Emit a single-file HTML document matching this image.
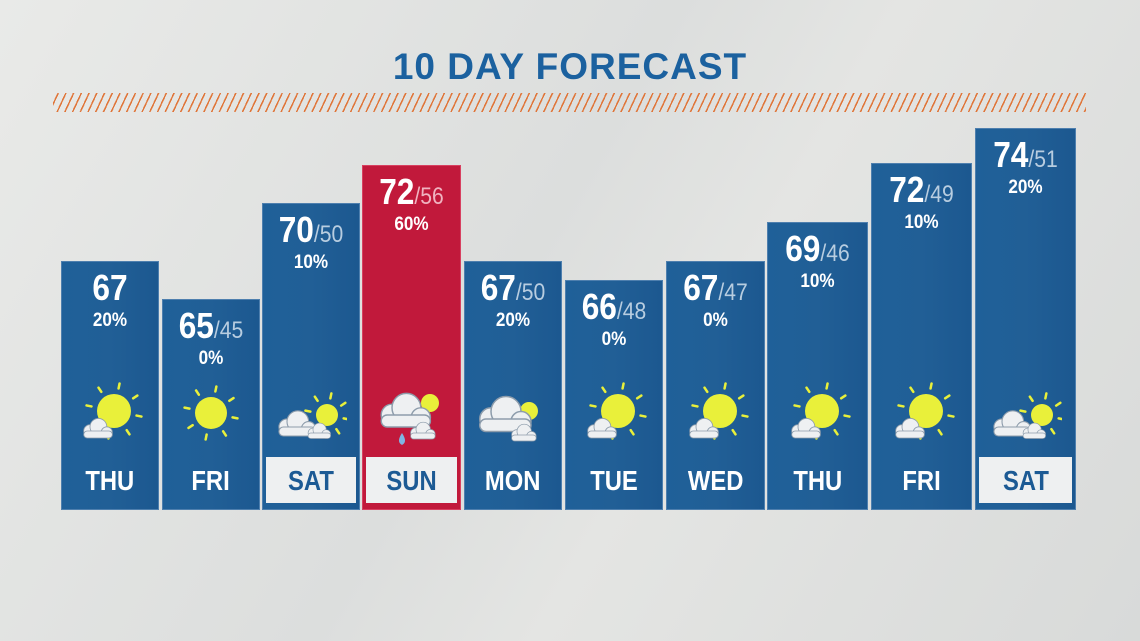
<!DOCTYPE html>
<html><head><meta charset="utf-8"><style>
body{margin:0;width:1140px;height:641px;overflow:hidden;background:linear-gradient(120deg,#e9eae8 0%,#dcdedd 45%,#e4e5e3 60%,#d8dad9 100%);font-family:"Liberation Sans Narrow","Liberation Sans",sans-serif;position:relative}
.title{position:absolute;left:0;width:1140px;top:46px;text-align:center;font:bold 37px "Liberation Sans",sans-serif;color:#1b619f;letter-spacing:1px}
.hatch{position:absolute;left:53px;top:93px;width:1033px;height:19px;background:repeating-linear-gradient(115deg,transparent 0 4px,#e0763a 4px 5.5px,transparent 5.5px 7px)}
.bar{position:absolute;bottom:131px;background:linear-gradient(90deg,#1f6099,#215f96 50%,#1c5890);border:1px solid #4e7fae;box-sizing:border-box;color:#fff;text-align:center}
.red{background:#c1193b;border-color:#d84060}
.t{position:absolute;left:0;right:0;top:8px;font-weight:bold;font-size:36px;line-height:36px;transform:scaleX(0.88)}
.t span{font-weight:normal;font-size:24px;color:#b8cde0}
.red .t span{color:#f0b3c0}
.p{position:absolute;left:0;right:0;top:48px;font-weight:bold;font-size:19px;transform:scaleX(0.9)}
.d{position:absolute;left:0;right:0;bottom:6px;height:46px;line-height:48px;font-weight:bold;font-size:28px}
.d b{display:inline-block;transform:scaleX(0.85)}
.box{left:3px;right:3px;background:#eef0f1;color:#1c5a94}
.ic{position:absolute;left:50%;bottom:58px;margin-left:-36px}
</style></head><body>
<div class="title">10 DAY FORECAST</div>
<div class="hatch"></div>
<div id="c"></div>
<script>
var D=[[61,98,261,'67','', '20%','THU','ps'],[162,98,299,'65','45','0%','FRI','s'],[262,98,203,'70','50','10%','SAT','pc',1],[362,99,165,'72','56','60%','SUN','r',1,1],[464,98,261,'67','50','20%','MON','mc'],[565,98,280,'66','48','0%','TUE','ps'],[666,99,261,'67','47','0%','WED','ps'],[767,101,222,'69','46','10%','THU','ps'],[871,101,163,'72','49','10%','FRI','ps'],[975,101,128,'74','51','20%','SAT','pc',1]];
function sun(cx,cy,r){var s='<circle cx="'+cx+'" cy="'+cy+'" r="'+r+'" fill="#e9f03a"/>';for(var i=0;i<8;i++){var a=i*Math.PI/4+0.2,c=Math.cos(a),n=Math.sin(a);s+='<line x1="'+(cx+c*(r+6))+'" y1="'+(cy+n*(r+6))+'" x2="'+(cx+c*(r+11))+'" y2="'+(cy+n*(r+11))+'" stroke="#e9f03a" stroke-width="2.5" stroke-linecap="round"/>';}return s;}
function cloud(x,y,k){return '<g transform="translate('+x+','+y+') scale('+k+')" fill="#eef0f2" stroke="#8d9cab" stroke-width="1.2"><circle cx="0" cy="0" r="9"/><circle cx="12" cy="-6" r="12"/><circle cx="24" cy="2" r="8"/><rect x="-9" y="0" width="41" height="10" rx="5"/></g>';}
function icon(t){var s='<svg class="ic" width="72" height="72" viewBox="0 0 72 72">';
if(t=='s')s+=sun(36,34,16);
if(t=='ps')s+=sun(40,32,17)+cloud(16,52,0.7);
if(t=='pc')s+=sun(52,36,11)+cloud(12,48,0.9)+cloud(38,54,0.55);
if(t=='mc')s+='<circle cx="52" cy="32" r="9" fill="#e9f03a"/>'+cloud(14,40,1.25)+cloud(40,56,0.6);
if(t=='r')s+='<circle cx="54" cy="24" r="9" fill="#e9f03a"/>'+cloud(16,36,1.2)+cloud(40,54,0.6)+'<path d="M26 54 q-6 9 0 12 q6 -3 0 -12z" fill="#7fb6e3"/>';
return s+'</svg>';}
var h='';D.forEach(function(b){h+='<div class="bar'+(b[9]?' red':'')+'" style="left:'+b[0]+'px;width:'+b[1]+'px;top:'+b[2]+'px">'+'<div class="t">'+b[3]+(b[4]?'<span>/'+b[4]+'</span>':'')+'</div><div class="p">'+b[5]+'</div>'+icon(b[7])+'<div class="d'+(b[8]?' box':'')+'"><b>'+b[6]+'</b></div></div>';});
document.getElementById('c').innerHTML=h;
</script>
</body></html>
